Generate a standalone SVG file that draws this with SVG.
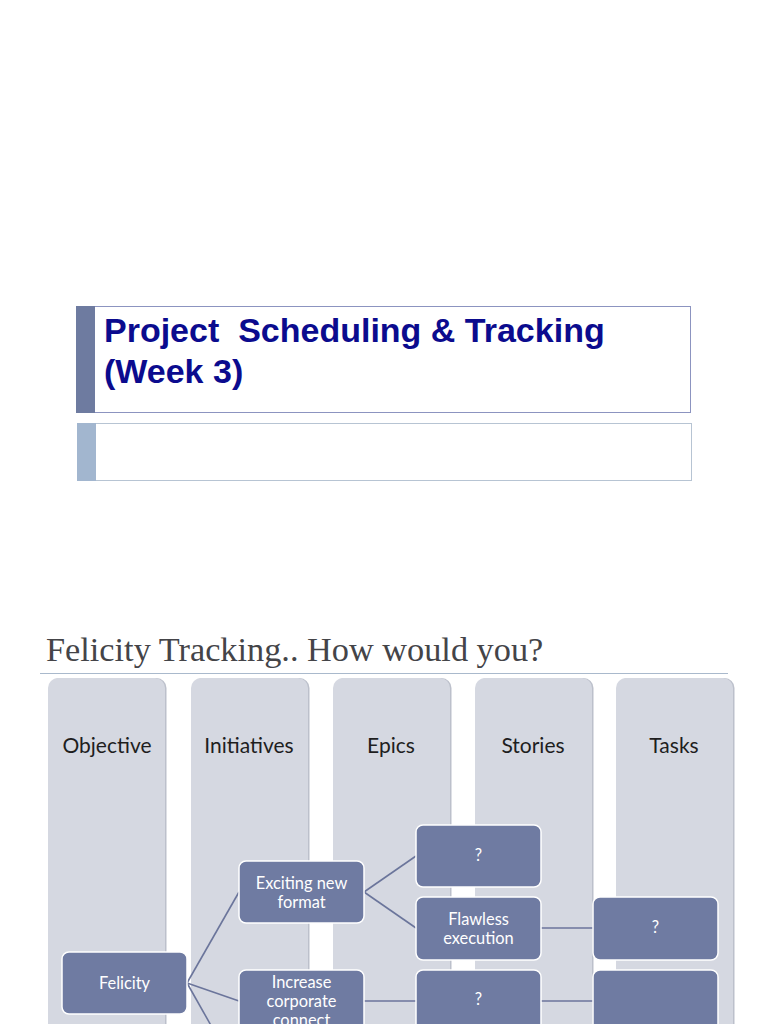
<svg xmlns="http://www.w3.org/2000/svg" width="768" height="1024" viewBox="0 0 768 1024">
<defs>
<style>
.title{font-family:"Liberation Sans",Arial,sans-serif;font-weight:bold;font-size:34px;fill:#0B0B8E}
.heading{font-family:"Liberation Serif","Times New Roman",serif;font-size:34.3px;fill:#444448}
.col{fill:#D5D8E1}
.colsh{fill:#BCC0CB}
.colh{font-family:Lato,"Open Sans",sans-serif;font-size:21px;fill:#1E1E1E;text-anchor:middle}
.box{fill:#6F7BA2;stroke:#FFFFFF;stroke-width:1.5}
.bt{font-family:Lato,"Open Sans",sans-serif;font-size:16.4px;fill:#FFFFFF;text-anchor:middle}
.conn{stroke:#6B759B;stroke-width:1.6;fill:none}
</style>
</defs>
<rect width="768" height="1024" fill="#FFFFFF"/>

<g id="title-box">
<rect x="76.5" y="306.5" width="614" height="106" fill="#FFFFFF" stroke="#8C94C0" stroke-width="1"/>
<rect x="76" y="306" width="19" height="107" fill="#6E7BA0"/>
<text class="title" x="104" y="342">Project&#160; Scheduling &amp; Tracking</text>
<text class="title" x="104" y="383">(Week 3)</text>
</g>

<g id="subtitle-box">
<rect x="77.5" y="423.5" width="614" height="57" fill="#FFFFFF" stroke="#B7C4D3" stroke-width="1"/>
<rect x="77" y="423" width="19" height="58" fill="#A2B6CF"/>
</g>

<g id="heading">
<text class="heading" x="46" y="661">Felicity Tracking.. How would you?</text>
<line x1="40" y1="673.5" x2="728" y2="673.5" stroke="#A9B9CC" stroke-width="1.2"/>
</g>

<g id="columns">
<g id="col-objective">
<rect class="colsh" x="49.5" y="678" width="117" height="360" rx="10"/>
<rect class="col" x="48" y="678" width="117" height="360" rx="10"/>
<text class="colh" x="107" y="753">Objective</text>
</g>
<g id="col-initiatives">
<rect class="colsh" x="192.5" y="678" width="117" height="360" rx="10"/>
<rect class="col" x="191" y="678" width="117" height="360" rx="10"/>
<text class="colh" x="249" y="753">Initiatives</text>
</g>
<g id="col-epics">
<rect class="colsh" x="334.5" y="678" width="117" height="360" rx="10"/>
<rect class="col" x="333" y="678" width="117" height="360" rx="10"/>
<text class="colh" x="391" y="753">Epics</text>
</g>
<g id="col-stories">
<rect class="colsh" x="476.5" y="678" width="117" height="360" rx="10"/>
<rect class="col" x="475" y="678" width="117" height="360" rx="10"/>
<text class="colh" x="533" y="753">Stories</text>
</g>
<g id="col-tasks">
<rect class="colsh" x="617.5" y="678" width="117" height="360" rx="10"/>
<rect class="col" x="616" y="678" width="117" height="360" rx="10"/>
<text class="colh" x="674" y="753">Tasks</text>
</g>
</g>

<g id="connectors">
<line class="conn" x1="187" y1="983" x2="239" y2="892"/>
<line class="conn" x1="187" y1="983" x2="239" y2="1001"/>
<line class="conn" x1="187" y1="983" x2="239" y2="1075"/>
<line class="conn" x1="364" y1="892" x2="416" y2="856"/>
<line class="conn" x1="364" y1="892" x2="416" y2="928"/>
<line class="conn" x1="541" y1="928" x2="593" y2="928"/>
<line class="conn" x1="364" y1="1001" x2="416" y2="1001"/>
<line class="conn" x1="541" y1="1001" x2="593" y2="1001"/>
</g>

<g id="node-felicity">
<rect class="box" x="62" y="952" width="125" height="62" rx="7"/>
<text class="bt" x="124.5" y="989">Felicity</text>
</g>
<g id="node-exciting">
<rect class="box" x="239" y="861" width="125" height="62" rx="7"/>
<text class="bt" x="301.5" y="889">Exciting new</text>
<text class="bt" x="301.5" y="908">format</text>
</g>
<g id="node-increase">
<rect class="box" x="239" y="970" width="125" height="62" rx="7"/>
<text class="bt" x="301.5" y="988">Increase</text>
<text class="bt" x="301.5" y="1007">corporate</text>
<text class="bt" x="301.5" y="1026">connect</text>
</g>
<g id="node-epic-q1">
<rect class="box" x="416" y="825" width="125" height="62" rx="7"/>
<text class="bt" x="478.5" y="861">?</text>
</g>
<g id="node-flawless">
<rect class="box" x="416" y="897" width="125" height="63" rx="7"/>
<text class="bt" x="478.5" y="925">Flawless</text>
<text class="bt" x="478.5" y="944">execution</text>
</g>
<g id="node-epic-q3">
<rect class="box" x="416" y="970" width="125" height="62" rx="7"/>
<text class="bt" x="478.5" y="1005">?</text>
</g>
<g id="node-task-q1">
<rect class="box" x="593" y="897" width="125" height="63" rx="7"/>
<text class="bt" x="655.5" y="933">?</text>
</g>
<g id="node-task-2">
<rect class="box" x="593" y="970" width="125" height="62" rx="7"/>
</g>
</svg>
